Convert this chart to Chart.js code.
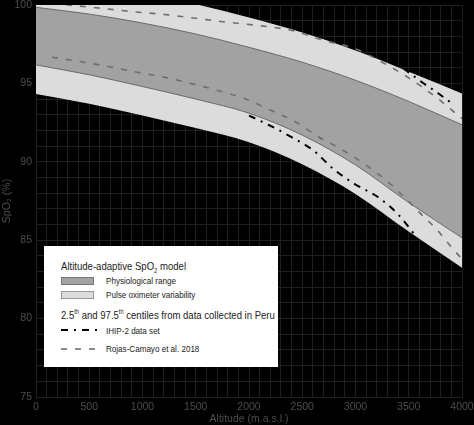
<!DOCTYPE html>
<html lang="en">
<head>
<meta charset="UTF-8">
<title>Altitude-adaptive SpO2 model</title>
<script src="https://cdn.jsdelivr.net/npm/chart.js"></script>
<style>
  html, body { margin: 0; padding: 0; background: #000; }
  #wrap { position: relative; width: 474px; height: 425px; }
  #legendBox {
    position: absolute; left: 44px; top: 246px; width: 234px; height: 121px;
    background: #fff; font-family: "Liberation Sans", Arial, sans-serif;
    color: #222; overflow: hidden;
  }
  #legendBox .row { position: absolute; left: 17px; white-space: nowrap; transform-origin: 0 50%; }
  .sw { position: absolute; left: 17px; width: 33px; height: 8px; box-sizing: border-box; }
  .lab { position: absolute; left: 62px; font-size: 9.5px; white-space: nowrap; line-height: 12px;
         transform: scaleX(0.85); transform-origin: 0 50%; }
  .head { font-size: 11px; line-height: 13px; transform: scaleX(0.87); }
  .big { font-size: 11.5px; line-height: 14px; transform: scaleX(0.83); }
  sup, sub { font-size: 60%; line-height: 0; }
</style>
</head>
<body>
<div id="wrap">
  <canvas id="grafico" width="474" height="425"></canvas>
  <div id="legendBox">
    <div class="row head" style="top:14px">Altitude-adaptive SpO<sub>2</sub> model</div>
    <div class="sw" style="top:31px;background:#a2a2a2;border:1px solid #777"></div>
    <div class="lab" style="top:29px">Physiological range</div>
    <div class="sw" style="top:45px;background:#dcdcdc;border:1px solid #999"></div>
    <div class="lab" style="top:43px">Pulse oximeter variability</div>
    <div class="row big" style="top:62px">2.5<sup>th</sup> and 97.5<sup>th</sup> centiles from data collected in Peru</div>
    <svg style="position:absolute;left:17px;top:81px" width="40" height="6">
      <line x1="0" y1="3" x2="40" y2="3" stroke="#000" stroke-width="2" stroke-dasharray="7 6 2 6"/>
    </svg>
    <div class="lab" style="top:79px">IHIP-2 data set</div>
    <svg style="position:absolute;left:17px;top:100px" width="40" height="6">
      <line x1="0" y1="3" x2="40" y2="3" stroke="#666" stroke-width="1.5" stroke-dasharray="6 8"/>
    </svg>
    <div class="lab" style="top:97px">Rojas-Camayo et al. 2018</div>
  </div>
</div>

<script>
// altitude grid for the model bands (m)
const altitudes = [0, 500, 1000, 1500, 2000, 2500, 3000, 3500, 4000];
// physiological range (inner band)
const physioUpper = [99.85, 99.42, 98.85, 98.15, 97.3, 96.35, 95.2, 93.85, 92.36];
const physioLower = [96.18, 95.55, 94.8, 94.0, 93.1, 91.7, 89.8, 87.4, 85.15];
// pulse oximeter variability (outer band)
const oximeterUpper = [101.75, 101.32, 100.75, 100.05, 99.2, 98.25, 97.1, 95.75, 94.36];
const oximeterLower = [94.33, 93.7, 92.95, 92.15, 91.25, 89.85, 87.95, 85.55, 83.25];

// Rojas-Camayo et al. 2018 centiles
const rojasUpperAlt = [150, 300, 600, 900, 1200, 1500, 1800, 2100, 2400, 2700, 3000, 3250, 3500, 3750, 4000];
const rojasUpper = [100.1, 100.0, 99.8, 99.58, 99.4, 99.15, 98.9, 98.68, 98.38, 97.75, 97.2, 96.35, 95.35, 94.15, 92.75];
const rojasLowerAlt = [150, 450, 700, 950, 1200, 1450, 1700, 1950, 2200, 2450, 2650, 2850, 3075, 3300, 3480, 3640, 3760, 3920, 4000];
const rojasLower = [96.67, 96.35, 96.05, 95.71, 95.4, 95.0, 94.56, 94.05, 93.3, 92.5, 91.6, 90.87, 89.9, 88.75, 87.6, 86.5, 85.7, 84.4, 83.8];

// IHIP-2 data set centiles
const ihipUpperAlt = [3450, 3550, 3650, 3750, 3900];
const ihipUpper = [95.95, 95.45, 94.95, 94.5, 93.75];
const ihipLowerAlt = [2000, 2200, 2400, 2600, 2800, 3000, 3200, 3400, 3550];
const ihipLower = [92.95, 92.3, 91.57, 90.75, 89.5, 88.55, 87.8, 86.65, 85.4];

const pontos = (xs, ys) => xs.map((x, i) => ({ x: x, y: ys[i] }));

const corTexto = '#4d4d4d';
const corGrade = '#1f1f1f';
const fonteEixo = { family: '"Liberation Sans", Arial, sans-serif', size: 10.5 };

new Chart(document.getElementById('grafico').getContext('2d'), {
    type: 'line',
    data: {
        datasets: [
            { // 0
                data: pontos(altitudes, oximeterLower), order: 3,
                borderWidth: 0, pointRadius: 0, fill: false, cubicInterpolationMode: 'monotone'
            },
            { // 1
                data: pontos(altitudes, oximeterUpper), order: 3,
                borderWidth: 0, pointRadius: 0, fill: 0, backgroundColor: '#dcdcdc', cubicInterpolationMode: 'monotone'
            },
            { // 2
                data: pontos(altitudes, physioLower), order: 2,
                borderColor: '#6a6a6a', borderWidth: 1, pointRadius: 0, fill: false, cubicInterpolationMode: 'monotone'
            },
            { // 3
                data: pontos(altitudes, physioUpper), order: 2,
                borderColor: '#6a6a6a', borderWidth: 1, pointRadius: 0, fill: 2, backgroundColor: '#a2a2a2', cubicInterpolationMode: 'monotone'
            },
            {
                data: pontos(rojasUpperAlt, rojasUpper), order: 1,
                borderColor: '#6e6e6e', borderWidth: 1.6, borderDash: [6, 8], pointRadius: 0, fill: false, cubicInterpolationMode: 'monotone'
            },
            {
                data: pontos(rojasLowerAlt, rojasLower), order: 1,
                borderColor: '#6e6e6e', borderWidth: 1.6, borderDash: [6, 8], pointRadius: 0, fill: false, cubicInterpolationMode: 'monotone'
            },
            {
                data: pontos(ihipUpperAlt, ihipUpper), order: 0,
                borderColor: '#000', borderWidth: 2, borderDash: [7, 6, 2, 6], pointRadius: 0, fill: false, cubicInterpolationMode: 'monotone'
            },
            {
                data: pontos(ihipLowerAlt, ihipLower), order: 0,
                borderColor: '#000', borderWidth: 2, borderDash: [7, 6, 2, 6], pointRadius: 0, fill: false, cubicInterpolationMode: 'monotone'
            }
        ]
    },
    options: {
        responsive: false,
        animation: false,
        devicePixelRatio: 1,
        layout: { padding: { top: 5, right: 12, left: 0, bottom: 0 } },
        plugins: { legend: { display: false }, tooltip: { enabled: false } },
        scales: {
            x: {
                type: 'linear', min: 0, max: 4000,
                afterFit: s => { s.height = 28; s.paddingLeft = 0; s.paddingRight = 0; },
                grid: { color: corGrade, drawTicks: false, lineWidth: 1 },
                border: { color: corGrade },
                ticks: {
                    stepSize: 100, autoSkip: false, maxRotation: 0, padding: 4,
                    color: corTexto, font: fonteEixo,
                    callback: v => (v % 500 === 0 ? v : '')
                },
                title: { display: true, text: 'Altitude (m.a.s.l.)', color: corTexto, font: fonteEixo, padding: 0 }
            },
            y: {
                min: 75, max: 100,
                afterFit: s => { s.width = 36; s.paddingTop = 0; s.paddingBottom = 0; },
                grid: { color: corGrade, drawTicks: false, lineWidth: 1 },
                border: { color: corGrade },
                ticks: {
                    stepSize: 1, autoSkip: false, padding: 4,
                    color: corTexto, font: fonteEixo,
                    callback: v => (v % 5 === 0 ? v : '')
                },
                title: { display: true, text: 'SpO₂ (%)', color: corTexto, font: fonteEixo, padding: 1 }
            }
        }
    }
});
</script>
</body>
</html>
